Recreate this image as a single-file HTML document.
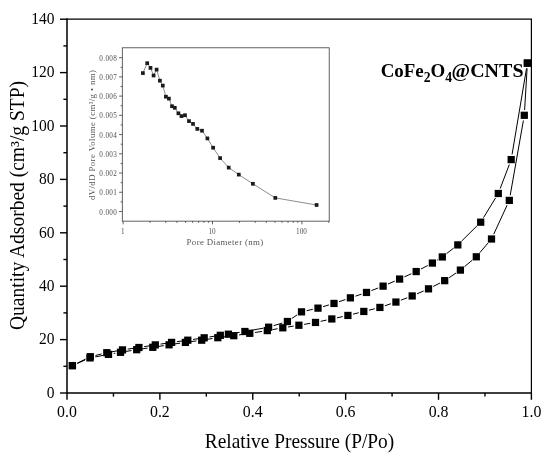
<!DOCTYPE html>
<html><head><meta charset="utf-8"><title>BET isotherm</title>
<style>
html,body{margin:0;padding:0;background:#fff;}
body{width:550px;height:457px;overflow:hidden;}
svg{display:block;}
text{font-family:"Liberation Serif",serif;fill:#000;}
.tk{font-size:16.5px;}
.ti{font-size:20px;}
.lg{font-size:19.4px;font-weight:bold;}
.sub{font-size:14px;}
.ti2{font-size:20px;}
.it{font-size:7.2px;fill:#505050;}
.il{font-size:8.8px;fill:#555;}
</style></head><body>
<svg width="550" height="457" viewBox="0 0 550 457">
<rect width="550" height="457" fill="#fff"/>
<path d="M67.0 18.599999999999998V393.0H532.0" fill="none" stroke="#000" stroke-width="1.5"/>
<path d="M66.25 19.2H531.4V393.75" fill="none" stroke="#000" stroke-width="1.2"/>
<line x1="60.0" y1="393.00" x2="67.0" y2="393.00" stroke="#000" stroke-width="1.4"/>
<text transform="translate(54.60,397.80) scale(0.94,1)" text-anchor="end" class="tk">0</text>
<line x1="63.4" y1="366.30" x2="67.0" y2="366.30" stroke="#000" stroke-width="1.4"/>
<line x1="60.0" y1="339.60" x2="67.0" y2="339.60" stroke="#000" stroke-width="1.4"/>
<text transform="translate(54.60,344.40) scale(0.94,1)" text-anchor="end" class="tk">20</text>
<line x1="63.4" y1="312.90" x2="67.0" y2="312.90" stroke="#000" stroke-width="1.4"/>
<line x1="60.0" y1="286.20" x2="67.0" y2="286.20" stroke="#000" stroke-width="1.4"/>
<text transform="translate(54.60,291.00) scale(0.94,1)" text-anchor="end" class="tk">40</text>
<line x1="63.4" y1="259.50" x2="67.0" y2="259.50" stroke="#000" stroke-width="1.4"/>
<line x1="60.0" y1="232.80" x2="67.0" y2="232.80" stroke="#000" stroke-width="1.4"/>
<text transform="translate(54.60,237.60) scale(0.94,1)" text-anchor="end" class="tk">60</text>
<line x1="63.4" y1="206.10" x2="67.0" y2="206.10" stroke="#000" stroke-width="1.4"/>
<line x1="60.0" y1="179.40" x2="67.0" y2="179.40" stroke="#000" stroke-width="1.4"/>
<text transform="translate(54.60,184.20) scale(0.94,1)" text-anchor="end" class="tk">80</text>
<line x1="63.4" y1="152.70" x2="67.0" y2="152.70" stroke="#000" stroke-width="1.4"/>
<line x1="60.0" y1="126.00" x2="67.0" y2="126.00" stroke="#000" stroke-width="1.4"/>
<text transform="translate(54.60,130.80) scale(0.94,1)" text-anchor="end" class="tk">100</text>
<line x1="63.4" y1="99.30" x2="67.0" y2="99.30" stroke="#000" stroke-width="1.4"/>
<line x1="60.0" y1="72.60" x2="67.0" y2="72.60" stroke="#000" stroke-width="1.4"/>
<text transform="translate(54.60,77.40) scale(0.94,1)" text-anchor="end" class="tk">120</text>
<line x1="63.4" y1="45.90" x2="67.0" y2="45.90" stroke="#000" stroke-width="1.4"/>
<line x1="60.0" y1="19.20" x2="67.0" y2="19.20" stroke="#000" stroke-width="1.4"/>
<text transform="translate(54.60,24.00) scale(0.94,1)" text-anchor="end" class="tk">140</text>
<line x1="67.00" y1="393.0" x2="67.00" y2="399.8" stroke="#000" stroke-width="1.4"/>
<text transform="translate(67.00,417.40) scale(0.96,1)" text-anchor="middle" class="tk">0.0</text>
<line x1="113.44" y1="393.0" x2="113.44" y2="396.6" stroke="#000" stroke-width="1.4"/>
<line x1="159.88" y1="393.0" x2="159.88" y2="399.8" stroke="#000" stroke-width="1.4"/>
<text transform="translate(159.88,417.40) scale(0.96,1)" text-anchor="middle" class="tk">0.2</text>
<line x1="206.32" y1="393.0" x2="206.32" y2="396.6" stroke="#000" stroke-width="1.4"/>
<line x1="252.76" y1="393.0" x2="252.76" y2="399.8" stroke="#000" stroke-width="1.4"/>
<text transform="translate(252.76,417.40) scale(0.96,1)" text-anchor="middle" class="tk">0.4</text>
<line x1="299.20" y1="393.0" x2="299.20" y2="396.6" stroke="#000" stroke-width="1.4"/>
<line x1="345.64" y1="393.0" x2="345.64" y2="399.8" stroke="#000" stroke-width="1.4"/>
<text transform="translate(345.64,417.40) scale(0.96,1)" text-anchor="middle" class="tk">0.6</text>
<line x1="392.08" y1="393.0" x2="392.08" y2="396.6" stroke="#000" stroke-width="1.4"/>
<line x1="438.52" y1="393.0" x2="438.52" y2="399.8" stroke="#000" stroke-width="1.4"/>
<text transform="translate(438.52,417.40) scale(0.96,1)" text-anchor="middle" class="tk">0.8</text>
<line x1="484.96" y1="393.0" x2="484.96" y2="396.6" stroke="#000" stroke-width="1.4"/>
<line x1="531.40" y1="393.0" x2="531.40" y2="399.8" stroke="#000" stroke-width="1.4"/>
<text transform="translate(531.40,417.40) scale(0.96,1)" text-anchor="middle" class="tk">1.0</text>
<text transform="translate(299.5,448.1) scale(0.969,1)" text-anchor="middle" class="ti">Relative Pressure (P/Po)</text>
<text transform="translate(23.7,205.5) rotate(-90) scale(0.975,1)" text-anchor="middle" class="ti2">Quantity Adsorbed (cm³/g STP)</text>
<text transform="translate(380.7,76.9) scale(0.975,1)" class="lg">CoFe<tspan class="sub" dy="5.3">2</tspan><tspan dy="-5.3">O</tspan><tspan class="sub" dy="5.3">4</tspan></text>
<text transform="translate(523.5,76.9) scale(1.03,1)" text-anchor="end" class="lg">@CNTS</text>
<line x1="77.26" y1="363.48" x2="85.14" y2="360.02" stroke="#000" stroke-width="1.0"/>
<line x1="95.21" y1="356.91" x2="103.29" y2="355.39" stroke="#000" stroke-width="1.0"/>
<line x1="113.72" y1="353.49" x2="115.28" y2="353.21" stroke="#000" stroke-width="1.0"/>
<line x1="125.73" y1="351.46" x2="131.47" y2="350.54" stroke="#000" stroke-width="1.0"/>
<line x1="141.94" y1="348.92" x2="147.56" y2="348.08" stroke="#000" stroke-width="1.0"/>
<line x1="158.04" y1="346.50" x2="163.86" y2="345.60" stroke="#000" stroke-width="1.0"/>
<line x1="174.34" y1="344.03" x2="180.16" y2="343.17" stroke="#000" stroke-width="1.0"/>
<line x1="190.65" y1="341.69" x2="196.45" y2="340.91" stroke="#000" stroke-width="1.0"/>
<line x1="206.94" y1="339.39" x2="212.56" y2="338.51" stroke="#000" stroke-width="1.0"/>
<line x1="223.06" y1="337.04" x2="228.54" y2="336.36" stroke="#000" stroke-width="1.0"/>
<line x1="239.04" y1="334.91" x2="244.56" y2="334.09" stroke="#000" stroke-width="1.0"/>
<line x1="255.04" y1="332.49" x2="262.06" y2="331.41" stroke="#000" stroke-width="1.0"/>
<line x1="272.52" y1="329.66" x2="277.58" y2="328.74" stroke="#000" stroke-width="1.0"/>
<line x1="288.03" y1="326.97" x2="293.67" y2="326.08" stroke="#000" stroke-width="1.0"/>
<line x1="304.13" y1="324.37" x2="310.27" y2="323.33" stroke="#000" stroke-width="1.0"/>
<line x1="320.68" y1="321.34" x2="326.62" y2="320.06" stroke="#000" stroke-width="1.0"/>
<line x1="336.98" y1="317.82" x2="342.72" y2="316.58" stroke="#000" stroke-width="1.0"/>
<line x1="353.04" y1="314.16" x2="358.66" y2="312.74" stroke="#000" stroke-width="1.0"/>
<line x1="368.94" y1="310.17" x2="374.76" y2="308.73" stroke="#000" stroke-width="1.0"/>
<line x1="384.92" y1="305.76" x2="390.88" y2="303.74" stroke="#000" stroke-width="1.0"/>
<line x1="400.86" y1="300.19" x2="407.24" y2="297.81" stroke="#000" stroke-width="1.0"/>
<line x1="417.06" y1="293.83" x2="423.64" y2="290.97" stroke="#000" stroke-width="1.0"/>
<line x1="433.23" y1="286.46" x2="439.97" y2="283.04" stroke="#000" stroke-width="1.0"/>
<line x1="449.10" y1="277.69" x2="456.00" y2="273.06" stroke="#000" stroke-width="1.0"/>
<line x1="464.47" y1="266.70" x2="472.23" y2="260.20" stroke="#000" stroke-width="1.0"/>
<line x1="479.74" y1="252.77" x2="488.06" y2="243.03" stroke="#000" stroke-width="1.0"/>
<line x1="493.72" y1="234.19" x2="507.08" y2="205.21" stroke="#000" stroke-width="1.0"/>
<line x1="510.22" y1="195.18" x2="523.38" y2="120.52" stroke="#000" stroke-width="1.0"/>
<line x1="524.61" y1="110.01" x2="527.09" y2="68.39" stroke="#000" stroke-width="1.0"/>
<rect x="68.78" y="361.98" width="7.25" height="7.25" fill="#000"/>
<rect x="86.38" y="354.27" width="7.25" height="7.25" fill="#000"/>
<rect x="104.88" y="350.77" width="7.25" height="7.25" fill="#000"/>
<rect x="116.88" y="348.68" width="7.25" height="7.25" fill="#000"/>
<rect x="133.07" y="346.07" width="7.25" height="7.25" fill="#000"/>
<rect x="149.18" y="343.68" width="7.25" height="7.25" fill="#000"/>
<rect x="165.47" y="341.18" width="7.25" height="7.25" fill="#000"/>
<rect x="181.78" y="338.77" width="7.25" height="7.25" fill="#000"/>
<rect x="198.07" y="336.57" width="7.25" height="7.25" fill="#000"/>
<rect x="214.18" y="334.07" width="7.25" height="7.25" fill="#000"/>
<rect x="230.18" y="332.07" width="7.25" height="7.25" fill="#000"/>
<rect x="246.18" y="329.68" width="7.25" height="7.25" fill="#000"/>
<rect x="263.68" y="326.98" width="7.25" height="7.25" fill="#000"/>
<rect x="279.18" y="324.18" width="7.25" height="7.25" fill="#000"/>
<rect x="295.28" y="321.62" width="7.25" height="7.25" fill="#000"/>
<rect x="311.88" y="318.82" width="7.25" height="7.25" fill="#000"/>
<rect x="328.18" y="315.32" width="7.25" height="7.25" fill="#000"/>
<rect x="344.28" y="311.82" width="7.25" height="7.25" fill="#000"/>
<rect x="360.18" y="307.82" width="7.25" height="7.25" fill="#000"/>
<rect x="376.28" y="303.82" width="7.25" height="7.25" fill="#000"/>
<rect x="392.28" y="298.43" width="7.25" height="7.25" fill="#000"/>
<rect x="408.57" y="292.32" width="7.25" height="7.25" fill="#000"/>
<rect x="424.88" y="285.22" width="7.25" height="7.25" fill="#000"/>
<rect x="441.07" y="277.02" width="7.25" height="7.25" fill="#000"/>
<rect x="456.77" y="266.48" width="7.25" height="7.25" fill="#000"/>
<rect x="472.68" y="253.18" width="7.25" height="7.25" fill="#000"/>
<rect x="487.88" y="235.38" width="7.25" height="7.25" fill="#000"/>
<rect x="505.68" y="196.78" width="7.25" height="7.25" fill="#000"/>
<rect x="520.67" y="111.67" width="7.25" height="7.25" fill="#000"/>
<rect x="523.77" y="59.48" width="7.25" height="7.25" fill="#000"/>
<line x1="526.52" y1="68.33" x2="512.08" y2="154.37" stroke="#000" stroke-width="1.0"/>
<line x1="509.32" y1="164.55" x2="500.18" y2="188.55" stroke="#000" stroke-width="1.0"/>
<line x1="495.53" y1="198.02" x2="483.47" y2="217.68" stroke="#000" stroke-width="1.0"/>
<line x1="476.94" y1="225.93" x2="461.56" y2="241.17" stroke="#000" stroke-width="1.0"/>
<line x1="453.62" y1="248.15" x2="446.48" y2="253.70" stroke="#000" stroke-width="1.0"/>
<line x1="437.79" y1="259.73" x2="436.91" y2="260.27" stroke="#000" stroke-width="1.0"/>
<line x1="427.71" y1="265.51" x2="420.89" y2="269.09" stroke="#000" stroke-width="1.0"/>
<line x1="411.37" y1="273.73" x2="404.43" y2="276.87" stroke="#000" stroke-width="1.0"/>
<line x1="394.73" y1="281.14" x2="387.97" y2="284.06" stroke="#000" stroke-width="1.0"/>
<line x1="378.14" y1="288.03" x2="371.46" y2="290.57" stroke="#000" stroke-width="1.0"/>
<line x1="361.48" y1="294.14" x2="355.42" y2="296.16" stroke="#000" stroke-width="1.0"/>
<line x1="345.38" y1="299.56" x2="339.02" y2="301.74" stroke="#000" stroke-width="1.0"/>
<line x1="328.91" y1="304.94" x2="323.09" y2="306.66" stroke="#000" stroke-width="1.0"/>
<line x1="312.83" y1="309.31" x2="306.67" y2="310.69" stroke="#000" stroke-width="1.0"/>
<line x1="297.13" y1="314.84" x2="291.77" y2="318.51" stroke="#000" stroke-width="1.0"/>
<line x1="282.33" y1="323.04" x2="273.67" y2="325.66" stroke="#000" stroke-width="1.0"/>
<line x1="263.39" y1="328.15" x2="250.11" y2="330.55" stroke="#000" stroke-width="1.0"/>
<line x1="239.67" y1="332.36" x2="233.63" y2="333.34" stroke="#000" stroke-width="1.0"/>
<line x1="215.06" y1="336.11" x2="209.44" y2="336.99" stroke="#000" stroke-width="1.0"/>
<line x1="198.96" y1="338.57" x2="193.04" y2="339.43" stroke="#000" stroke-width="1.0"/>
<line x1="182.55" y1="340.91" x2="176.85" y2="341.69" stroke="#000" stroke-width="1.0"/>
<line x1="166.36" y1="343.20" x2="160.54" y2="344.10" stroke="#000" stroke-width="1.0"/>
<line x1="150.07" y1="345.73" x2="144.13" y2="346.67" stroke="#000" stroke-width="1.0"/>
<line x1="133.66" y1="348.27" x2="127.74" y2="349.13" stroke="#000" stroke-width="1.0"/>
<line x1="117.28" y1="350.83" x2="112.02" y2="351.77" stroke="#000" stroke-width="1.0"/>
<line x1="101.65" y1="353.95" x2="95.45" y2="355.45" stroke="#000" stroke-width="1.0"/>
<line x1="85.55" y1="359.06" x2="77.15" y2="363.24" stroke="#000" stroke-width="1.0"/>
<rect x="523.77" y="59.48" width="7.25" height="7.25" fill="#000"/>
<rect x="507.57" y="155.97" width="7.25" height="7.25" fill="#000"/>
<rect x="494.68" y="189.88" width="7.25" height="7.25" fill="#000"/>
<rect x="477.07" y="218.57" width="7.25" height="7.25" fill="#000"/>
<rect x="454.18" y="241.28" width="7.25" height="7.25" fill="#000"/>
<rect x="438.68" y="253.32" width="7.25" height="7.25" fill="#000"/>
<rect x="428.77" y="259.43" width="7.25" height="7.25" fill="#000"/>
<rect x="412.57" y="267.93" width="7.25" height="7.25" fill="#000"/>
<rect x="395.98" y="275.43" width="7.25" height="7.25" fill="#000"/>
<rect x="379.48" y="282.52" width="7.25" height="7.25" fill="#000"/>
<rect x="362.88" y="288.82" width="7.25" height="7.25" fill="#000"/>
<rect x="346.77" y="294.22" width="7.25" height="7.25" fill="#000"/>
<rect x="330.38" y="299.82" width="7.25" height="7.25" fill="#000"/>
<rect x="314.38" y="304.52" width="7.25" height="7.25" fill="#000"/>
<rect x="297.88" y="308.22" width="7.25" height="7.25" fill="#000"/>
<rect x="283.77" y="317.88" width="7.25" height="7.25" fill="#000"/>
<rect x="264.98" y="323.57" width="7.25" height="7.25" fill="#000"/>
<rect x="241.28" y="327.88" width="7.25" height="7.25" fill="#000"/>
<rect x="224.78" y="330.57" width="7.25" height="7.25" fill="#000"/>
<rect x="216.68" y="331.68" width="7.25" height="7.25" fill="#000"/>
<rect x="200.57" y="334.18" width="7.25" height="7.25" fill="#000"/>
<rect x="184.18" y="336.57" width="7.25" height="7.25" fill="#000"/>
<rect x="167.97" y="338.77" width="7.25" height="7.25" fill="#000"/>
<rect x="151.68" y="341.27" width="7.25" height="7.25" fill="#000"/>
<rect x="135.28" y="343.88" width="7.25" height="7.25" fill="#000"/>
<rect x="118.88" y="346.27" width="7.25" height="7.25" fill="#000"/>
<rect x="103.17" y="349.07" width="7.25" height="7.25" fill="#000"/>
<rect x="86.67" y="353.07" width="7.25" height="7.25" fill="#000"/>
<rect x="68.78" y="361.98" width="7.25" height="7.25" fill="#000"/>
<rect x="122.3" y="47.8" width="206.89999999999998" height="173.35000000000002" fill="#fff" stroke="#3a3a3a" stroke-width="0.8"/>
<line x1="119.1" y1="211.50" x2="122.3" y2="211.50" stroke="#3a3a3a" stroke-width="0.8"/>
<text x="99.3" y="214.60" textLength="17.6" lengthAdjust="spacing" class="it">0.000</text>
<line x1="120.6" y1="201.88" x2="122.3" y2="201.88" stroke="#3a3a3a" stroke-width="0.8"/>
<line x1="119.1" y1="192.27" x2="122.3" y2="192.27" stroke="#3a3a3a" stroke-width="0.8"/>
<text x="99.3" y="195.37" textLength="17.6" lengthAdjust="spacing" class="it">0.001</text>
<line x1="120.6" y1="182.66" x2="122.3" y2="182.66" stroke="#3a3a3a" stroke-width="0.8"/>
<line x1="119.1" y1="173.04" x2="122.3" y2="173.04" stroke="#3a3a3a" stroke-width="0.8"/>
<text x="99.3" y="176.14" textLength="17.6" lengthAdjust="spacing" class="it">0.002</text>
<line x1="120.6" y1="163.43" x2="122.3" y2="163.43" stroke="#3a3a3a" stroke-width="0.8"/>
<line x1="119.1" y1="153.81" x2="122.3" y2="153.81" stroke="#3a3a3a" stroke-width="0.8"/>
<text x="99.3" y="156.91" textLength="17.6" lengthAdjust="spacing" class="it">0.003</text>
<line x1="120.6" y1="144.19" x2="122.3" y2="144.19" stroke="#3a3a3a" stroke-width="0.8"/>
<line x1="119.1" y1="134.58" x2="122.3" y2="134.58" stroke="#3a3a3a" stroke-width="0.8"/>
<text x="99.3" y="137.68" textLength="17.6" lengthAdjust="spacing" class="it">0.004</text>
<line x1="120.6" y1="124.97" x2="122.3" y2="124.97" stroke="#3a3a3a" stroke-width="0.8"/>
<line x1="119.1" y1="115.35" x2="122.3" y2="115.35" stroke="#3a3a3a" stroke-width="0.8"/>
<text x="99.3" y="118.45" textLength="17.6" lengthAdjust="spacing" class="it">0.005</text>
<line x1="120.6" y1="105.73" x2="122.3" y2="105.73" stroke="#3a3a3a" stroke-width="0.8"/>
<line x1="119.1" y1="96.12" x2="122.3" y2="96.12" stroke="#3a3a3a" stroke-width="0.8"/>
<text x="99.3" y="99.22" textLength="17.6" lengthAdjust="spacing" class="it">0.006</text>
<line x1="120.6" y1="86.50" x2="122.3" y2="86.50" stroke="#3a3a3a" stroke-width="0.8"/>
<line x1="119.1" y1="76.89" x2="122.3" y2="76.89" stroke="#3a3a3a" stroke-width="0.8"/>
<text x="99.3" y="79.99" textLength="17.6" lengthAdjust="spacing" class="it">0.007</text>
<line x1="120.6" y1="67.28" x2="122.3" y2="67.28" stroke="#3a3a3a" stroke-width="0.8"/>
<line x1="119.1" y1="57.66" x2="122.3" y2="57.66" stroke="#3a3a3a" stroke-width="0.8"/>
<text x="99.3" y="60.76" textLength="17.6" lengthAdjust="spacing" class="it">0.008</text>
<line x1="123.10" y1="221.15" x2="123.10" y2="224.35" stroke="#3a3a3a" stroke-width="0.8"/>
<text x="122.70" y="233.85" text-anchor="middle" class="it">1</text>
<line x1="150.01" y1="221.15" x2="150.01" y2="222.85" stroke="#3a3a3a" stroke-width="0.8"/>
<line x1="165.75" y1="221.15" x2="165.75" y2="222.85" stroke="#3a3a3a" stroke-width="0.8"/>
<line x1="176.92" y1="221.15" x2="176.92" y2="222.85" stroke="#3a3a3a" stroke-width="0.8"/>
<line x1="185.59" y1="221.15" x2="185.59" y2="222.85" stroke="#3a3a3a" stroke-width="0.8"/>
<line x1="192.67" y1="221.15" x2="192.67" y2="222.85" stroke="#3a3a3a" stroke-width="0.8"/>
<line x1="198.65" y1="221.15" x2="198.65" y2="222.85" stroke="#3a3a3a" stroke-width="0.8"/>
<line x1="203.84" y1="221.15" x2="203.84" y2="222.85" stroke="#3a3a3a" stroke-width="0.8"/>
<line x1="208.41" y1="221.15" x2="208.41" y2="222.85" stroke="#3a3a3a" stroke-width="0.8"/>
<line x1="212.50" y1="221.15" x2="212.50" y2="224.35" stroke="#3a3a3a" stroke-width="0.8"/>
<text x="212.10" y="233.85" text-anchor="middle" class="it">10</text>
<line x1="239.41" y1="221.15" x2="239.41" y2="222.85" stroke="#3a3a3a" stroke-width="0.8"/>
<line x1="255.15" y1="221.15" x2="255.15" y2="222.85" stroke="#3a3a3a" stroke-width="0.8"/>
<line x1="266.32" y1="221.15" x2="266.32" y2="222.85" stroke="#3a3a3a" stroke-width="0.8"/>
<line x1="274.99" y1="221.15" x2="274.99" y2="222.85" stroke="#3a3a3a" stroke-width="0.8"/>
<line x1="282.07" y1="221.15" x2="282.07" y2="222.85" stroke="#3a3a3a" stroke-width="0.8"/>
<line x1="288.05" y1="221.15" x2="288.05" y2="222.85" stroke="#3a3a3a" stroke-width="0.8"/>
<line x1="293.24" y1="221.15" x2="293.24" y2="222.85" stroke="#3a3a3a" stroke-width="0.8"/>
<line x1="297.81" y1="221.15" x2="297.81" y2="222.85" stroke="#3a3a3a" stroke-width="0.8"/>
<line x1="301.90" y1="221.15" x2="301.90" y2="224.35" stroke="#3a3a3a" stroke-width="0.8"/>
<text x="301.50" y="233.85" text-anchor="middle" class="it">100</text>
<line x1="328.81" y1="221.15" x2="328.81" y2="222.85" stroke="#3a3a3a" stroke-width="0.8"/>
<text x="186.6" y="245.3" textLength="76.6" lengthAdjust="spacing" class="il">Pore Diameter (nm)</text>
<text transform="translate(95.1,200) rotate(-90)" textLength="130" lengthAdjust="spacing" class="il">dV/dD Pore Volume (cm³/g • nm)</text>
<line x1="142.90" y1="73.10" x2="147.20" y2="63.20" stroke="#1a1a1a" stroke-width="0.5"/>
<line x1="147.20" y1="63.20" x2="150.50" y2="67.90" stroke="#1a1a1a" stroke-width="0.5"/>
<line x1="150.50" y1="67.90" x2="153.60" y2="75.50" stroke="#1a1a1a" stroke-width="0.5"/>
<line x1="153.60" y1="75.50" x2="156.60" y2="69.60" stroke="#1a1a1a" stroke-width="0.5"/>
<line x1="156.60" y1="69.60" x2="159.90" y2="80.70" stroke="#1a1a1a" stroke-width="0.5"/>
<line x1="159.90" y1="80.70" x2="162.80" y2="85.60" stroke="#1a1a1a" stroke-width="0.5"/>
<line x1="162.80" y1="85.60" x2="165.90" y2="96.70" stroke="#1a1a1a" stroke-width="0.5"/>
<line x1="165.90" y1="96.70" x2="168.90" y2="98.60" stroke="#1a1a1a" stroke-width="0.5"/>
<line x1="168.90" y1="98.60" x2="172.00" y2="106.20" stroke="#1a1a1a" stroke-width="0.5"/>
<line x1="172.00" y1="106.20" x2="174.80" y2="107.80" stroke="#1a1a1a" stroke-width="0.5"/>
<line x1="174.80" y1="107.80" x2="178.40" y2="113.30" stroke="#1a1a1a" stroke-width="0.5"/>
<line x1="178.40" y1="113.30" x2="181.50" y2="116.10" stroke="#1a1a1a" stroke-width="0.5"/>
<line x1="181.50" y1="116.10" x2="185.00" y2="115.20" stroke="#1a1a1a" stroke-width="0.5"/>
<line x1="185.00" y1="115.20" x2="189.00" y2="121.10" stroke="#1a1a1a" stroke-width="0.5"/>
<line x1="189.00" y1="121.10" x2="193.00" y2="123.90" stroke="#1a1a1a" stroke-width="0.5"/>
<line x1="193.00" y1="123.90" x2="197.30" y2="128.90" stroke="#1a1a1a" stroke-width="0.5"/>
<line x1="197.30" y1="128.90" x2="202.00" y2="130.70" stroke="#1a1a1a" stroke-width="0.5"/>
<line x1="202.00" y1="130.70" x2="207.40" y2="138.40" stroke="#1a1a1a" stroke-width="0.5"/>
<line x1="207.40" y1="138.40" x2="213.10" y2="147.70" stroke="#1a1a1a" stroke-width="0.5"/>
<line x1="213.10" y1="147.70" x2="220.10" y2="158.10" stroke="#1a1a1a" stroke-width="0.5"/>
<line x1="220.10" y1="158.10" x2="228.70" y2="167.60" stroke="#1a1a1a" stroke-width="0.5"/>
<line x1="228.70" y1="167.60" x2="238.80" y2="174.60" stroke="#1a1a1a" stroke-width="0.5"/>
<line x1="238.80" y1="174.60" x2="252.90" y2="183.80" stroke="#1a1a1a" stroke-width="0.5"/>
<line x1="252.90" y1="183.80" x2="275.30" y2="197.90" stroke="#1a1a1a" stroke-width="0.5"/>
<line x1="275.30" y1="197.90" x2="316.60" y2="205.00" stroke="#1a1a1a" stroke-width="0.5"/>
<rect x="141.05" y="71.25" width="3.7" height="3.7" fill="#1a1a1a"/>
<rect x="145.35" y="61.35" width="3.7" height="3.7" fill="#1a1a1a"/>
<rect x="148.65" y="66.05" width="3.7" height="3.7" fill="#1a1a1a"/>
<rect x="151.75" y="73.65" width="3.7" height="3.7" fill="#1a1a1a"/>
<rect x="154.75" y="67.75" width="3.7" height="3.7" fill="#1a1a1a"/>
<rect x="158.05" y="78.85" width="3.7" height="3.7" fill="#1a1a1a"/>
<rect x="160.95" y="83.75" width="3.7" height="3.7" fill="#1a1a1a"/>
<rect x="164.05" y="94.85" width="3.7" height="3.7" fill="#1a1a1a"/>
<rect x="167.05" y="96.75" width="3.7" height="3.7" fill="#1a1a1a"/>
<rect x="170.15" y="104.35" width="3.7" height="3.7" fill="#1a1a1a"/>
<rect x="172.95" y="105.95" width="3.7" height="3.7" fill="#1a1a1a"/>
<rect x="176.55" y="111.45" width="3.7" height="3.7" fill="#1a1a1a"/>
<rect x="179.65" y="114.25" width="3.7" height="3.7" fill="#1a1a1a"/>
<rect x="183.15" y="113.35" width="3.7" height="3.7" fill="#1a1a1a"/>
<rect x="187.15" y="119.25" width="3.7" height="3.7" fill="#1a1a1a"/>
<rect x="191.15" y="122.05" width="3.7" height="3.7" fill="#1a1a1a"/>
<rect x="195.45" y="127.05" width="3.7" height="3.7" fill="#1a1a1a"/>
<rect x="200.15" y="128.85" width="3.7" height="3.7" fill="#1a1a1a"/>
<rect x="205.55" y="136.55" width="3.7" height="3.7" fill="#1a1a1a"/>
<rect x="211.25" y="145.85" width="3.7" height="3.7" fill="#1a1a1a"/>
<rect x="218.25" y="156.25" width="3.7" height="3.7" fill="#1a1a1a"/>
<rect x="226.85" y="165.75" width="3.7" height="3.7" fill="#1a1a1a"/>
<rect x="236.95" y="172.75" width="3.7" height="3.7" fill="#1a1a1a"/>
<rect x="251.05" y="181.95" width="3.7" height="3.7" fill="#1a1a1a"/>
<rect x="273.45" y="196.05" width="3.7" height="3.7" fill="#1a1a1a"/>
<rect x="314.75" y="203.15" width="3.7" height="3.7" fill="#1a1a1a"/>
</svg>
</body></html>
